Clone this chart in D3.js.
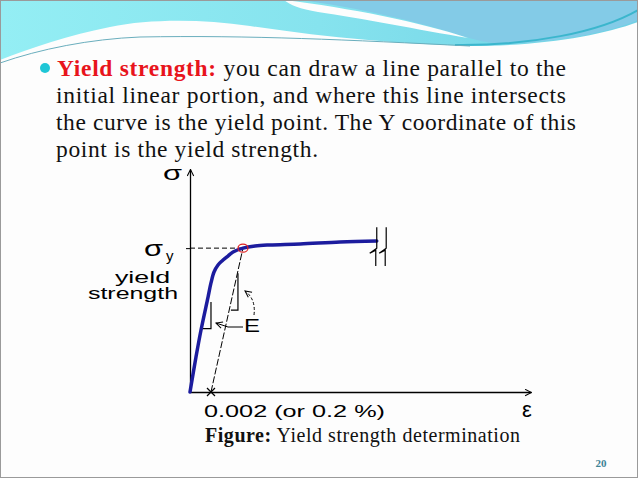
<!DOCTYPE html>
<html>
<head>
<meta charset="utf-8">
<script src="https://cdn.jsdelivr.net/npm/d3@7"></script>
<style>
  body { margin: 0; background: #fff; }
  svg { display: block; }
</style>
</head>
<body>
<div id="slide"></div>
<script>
// stress-strain curve, stress normalised to the yield strength (sigma_y = 1)
const strain = [0, 0.00057, 0.00105, 0.00172, 0.0020, 0.00229, 0.00267, 0.00305, 0.00362, 0.0041, 0.00505, 0.0062, 0.00762, 0.0105, 0.0143, 0.0178];
const stress = [0, 0.243, 0.431, 0.660, 0.758, 0.834, 0.883, 0.911, 0.945, 0.973, 1.0, 1.015, 1.022, 1.029, 1.043, 1.05];
const offsetStrain = 0.002;
const yieldStrain = 0.00505;
const yieldStress = 1.0;
// slope triangles [strain0, stress0, strain1, stress1]
const slopeTriangles = [[0.00105, 0.44, 0.0020, 0.625], [0.0039, 0.569, 0.00457, 0.826]];
const breakStrains = [0.0178, 0.0187];

const bodyLines = [
  ["Yield strength:", " you can draw a line parallel to the"],
  ["", "initial linear portion, and where this line intersects"],
  ["", "the curve is the yield point. The Y coordinate of this"],
  ["", "point is the yield strength."]
];

const W = 638, H = 478;
const svg = d3.select("#slide").append("svg").attr("width", W).attr("height", H);
const defs = svg.append("defs");

const grad = defs.append("linearGradient").attr("id", "cyan").attr("x1", 0).attr("x2", 1).attr("y1", 0).attr("y2", 0);
grad.append("stop").attr("offset", 0).attr("stop-color", "#94eef4");
grad.append("stop").attr("offset", 0.5).attr("stop-color", "#86e3ee");
grad.append("stop").attr("offset", 1).attr("stop-color", "#6fd0e4");

defs.append("marker").attr("id", "arrow").attr("viewBox", "0 0 10 10")
  .attr("refX", 9).attr("refY", 5).attr("markerWidth", 8).attr("markerHeight", 8)
  .attr("markerUnits", "userSpaceOnUse").attr("orient", "auto")
  .append("path").attr("d", "M1,1 L9,5 L1,9").attr("fill", "none").attr("stroke", "#000").attr("stroke-width", 1.3);

// slide background and header swoosh
svg.append("rect").attr("width", W).attr("height", H).attr("fill", "#fdfdfd");
svg.append("path")
  .attr("d", "M0,0 H638 V22 C600,36 540,46 470,46 C400,44 330,38 250,26 C200,19 150,19 110,27 C70,35 30,48 0,60 Z")
  .attr("fill", "url(#cyan)");
svg.append("path")
  .attr("d", "M300,0 H638 V20 C610,32 560,42 500,44 C485,42 475,40 466,37 C420,22 360,8 300,0 Z")
  .attr("fill", "#83cbe7");
svg.append("path")
  .attr("d", "M284,0 C350,8 420,22 468,38 C420,30 360,18 318,12 C300,9 290,5 284,0 Z")
  .attr("fill", "#fdfdfd");
svg.append("path")
  .attr("d", "M455,45 C530,46 600,32 638,10")
  .attr("fill", "none").attr("stroke", "#3bb6cd").attr("stroke-width", 2);
svg.append("path")
  .attr("d", "M0,63 C40,49 90,39 140,37 C250,35 350,40 470,46")
  .attr("fill", "none").attr("stroke", "#6aaebd").attr("stroke-width", 1);
svg.append("rect").attr("x", 0.5).attr("y", 0.5).attr("width", W - 1).attr("height", H - 1)
  .attr("fill", "none").attr("stroke", "#9a9a9a");

// bullet text
svg.append("circle").attr("cx", 45).attr("cy", 68).attr("r", 5).attr("fill", "#1fc6d6");
const lineWidths = [509, 510, 520, 262];
bodyLines.forEach((ln, i) => {
  const t = svg.append("text")
    .attr("x", i === 0 ? 57 : 56).attr("y", 76 + i * 27)
    .attr("font-family", "Liberation Serif").attr("font-size", 23.5).attr("fill", "#111")
    .attr("textLength", lineWidths[i]);
  if (ln[0]) t.append("tspan").attr("font-weight", "bold").attr("fill", "#e8141c").text(ln[0]);
  t.append("tspan").text(ln[1]);
});

// chart
const x = d3.scaleLinear().domain([0, 0.0325]).range([190, 531]);
const y = d3.scaleLinear().domain([0, 1.55]).range([392, 169]);

const gx = svg.append("g").attr("transform", `translate(0,${y(0)})`)
  .call(d3.axisBottom(x).tickValues([]).tickSizeOuter(0));
gx.select(".domain").attr("stroke-width", 1.3).attr("marker-end", "url(#arrow)");

const gy = svg.append("g").attr("transform", `translate(${x(0)},0)`)
  .call(d3.axisLeft(y).tickValues([yieldStress]).tickSize(4).tickFormat("").tickSizeOuter(0));
gy.select(".domain").attr("stroke-width", 1.3).attr("marker-end", "url(#arrow)");

// dashed yield level
svg.append("line")
  .attr("x1", x(0)).attr("x2", x(yieldStrain)).attr("y1", y(yieldStress)).attr("y2", y(yieldStress))
  .attr("stroke", "#000").attr("stroke-dasharray", "5,3");

// offset line parallel to the elastic part
svg.append("line")
  .attr("x1", x(offsetStrain)).attr("y1", y(0)).attr("x2", x(yieldStrain)).attr("y2", y(yieldStress))
  .attr("stroke", "#000").attr("stroke-dasharray", "7,2");

// x mark at 0.002
const cx = x(offsetStrain), cy = y(0);
svg.append("path").attr("d", `M${cx - 4},${cy - 4} L${cx + 4},${cy + 4} M${cx - 4},${cy + 4} L${cx + 4},${cy - 4}`)
  .attr("stroke", "#000").attr("stroke-width", 1.2);

// slope triangles
svg.selectAll(".tri").data(slopeTriangles).join("path").attr("class", "tri")
  .attr("d", d => `M${x(d[0])},${y(d[1])} H${x(d[2])} V${y(d[3])}`)
  .attr("fill", "none").attr("stroke", "#000").attr("stroke-width", 1.2);

// E leaders
svg.append("path").attr("d", "M243,327 L228,327 L216,323")
  .attr("fill", "none").attr("stroke", "#000").attr("stroke-width", 1).attr("marker-end", "url(#arrow)");
svg.append("path").attr("d", "M254,315 Q256,299 245,291")
  .attr("fill", "none").attr("stroke", "#000").attr("stroke-width", 1).attr("stroke-dasharray", "3,2")
  .attr("marker-end", "url(#arrow)");

// curve
const line = d3.line().x(d => x(d[0])).y(d => y(d[1])).curve(d3.curveCatmullRom.alpha(0.5));
svg.append("path").datum(d3.zip(strain, stress))
  .attr("d", line).attr("fill", "none").attr("stroke", "#1c1c9e")
  .attr("stroke-width", 3.5).attr("stroke-linecap", "round").attr("stroke-linejoin", "round");

// yield point marker
svg.append("ellipse").attr("cx", x(yieldStrain)).attr("cy", y(yieldStress)).attr("rx", 5).attr("ry", 4)
  .attr("fill", "none").attr("stroke", "#e02020").attr("stroke-width", 1.2);

// break symbol
const bt = y(1.145), bm = y(1.0), bb = y(0.875);
svg.selectAll(".brk").data(breakStrains).join("path").attr("class", "brk")
  .attr("d", d => `M${x(d)},${bt} V${bm} L${x(d) - 7},${bm + 5} L${x(d) - 1},${bm + 2} V${bb}`)
  .attr("fill", "none").attr("stroke", "#000").attr("stroke-width", 1.2);

// labels
const sans = "Liberation Sans";
svg.append("text").attr("x", 163).attr("y", 180).attr("font-family", sans).attr("font-size", 21)
  .attr("textLength", 19).attr("lengthAdjust", "spacingAndGlyphs").text("σ");
svg.append("text").attr("x", 144).attr("y", 256).attr("font-family", sans).attr("font-size", 22)
  .attr("textLength", 19).attr("lengthAdjust", "spacingAndGlyphs").text("σ");
svg.append("text").attr("x", 166).attr("y", 261).attr("font-family", sans).attr("font-size", 15).text("y");
svg.append("text").attr("x", 115).attr("y", 283).attr("font-family", sans).attr("font-size", 16)
  .attr("textLength", 55).attr("lengthAdjust", "spacingAndGlyphs").text("yield");
svg.append("text").attr("x", 88).attr("y", 299).attr("font-family", sans).attr("font-size", 16)
  .attr("textLength", 90).attr("lengthAdjust", "spacingAndGlyphs").text("strength");
svg.append("text").attr("x", 244).attr("y", 332).attr("font-family", sans).attr("font-size", 18)
  .attr("textLength", 16).attr("lengthAdjust", "spacingAndGlyphs").text("E");
svg.append("text").attr("x", 204).attr("y", 417).attr("font-family", sans).attr("font-size", 17)
  .attr("textLength", 181).attr("lengthAdjust", "spacingAndGlyphs").text("0.002 (or 0.2 %)");
svg.append("text").attr("x", 522).attr("y", 417).attr("font-family", sans).attr("font-size", 22).text("ε");

const cap = svg.append("text").attr("x", 205).attr("y", 442)
  .attr("font-family", "Liberation Serif").attr("font-size", 20).attr("fill", "#111")
  .attr("textLength", 315);
cap.append("tspan").attr("font-weight", "bold").text("Figure:");
cap.append("tspan").text(" Yield strength determination");

svg.append("text").attr("x", 601).attr("y", 467).attr("text-anchor", "middle")
  .attr("font-family", "Liberation Serif").attr("font-size", 11).attr("font-weight", "bold")
  .attr("fill", "#3d8496").text("20");
</script>
</body>
</html>
